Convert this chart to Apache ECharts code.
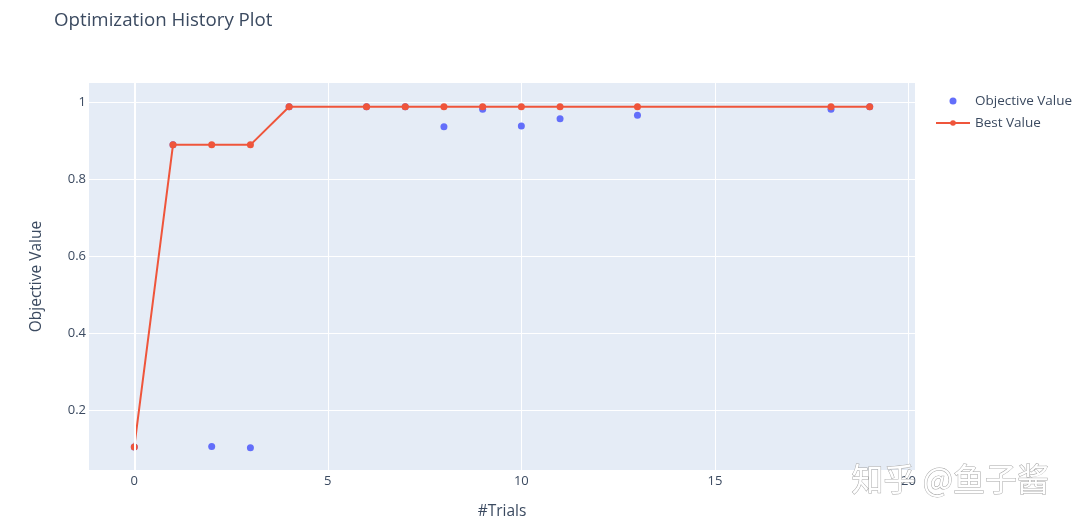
<!DOCTYPE html>
<html>
<head>
<meta charset="utf-8">
<script src="https://cdn.jsdelivr.net/npm/echarts@6/dist/echarts.min.js"></script>
<style>
html,body{margin:0;padding:0;background:#fff;}
#chart{width:1080px;height:525px;}
</style>
</head>
<body>
<div id="chart"></div>
<script>
const trials = [0, 1, 2, 3, 4, 6, 7, 8, 9, 10, 11, 13, 18, 19];
const objectiveValues = [0.104, 0.89, 0.105, 0.102, 0.989, 0.989, 0.989, 0.937, 0.983, 0.939, 0.958, 0.967, 0.983, 0.989];
const bestValues = [0.104, 0.89, 0.89, 0.89, 0.989, 0.989, 0.989, 0.989, 0.989, 0.989, 0.989, 0.989, 0.989, 0.989];
const xTicks = [0, 5, 10, 15, 20];
const yTicks = [0.2, 0.4, 0.6, 0.8, 1];

const FONT = '"Open Sans", "Noto Sans", sans-serif';
const TXT = '#3b4a60';

const chart = echarts.init(document.getElementById('chart'), null, {renderer: 'canvas'});
chart.setOption({
  animation: false,
  backgroundColor: '#ffffff',
  textStyle: {fontFamily: FONT, color: TXT},
  title: {
    text: 'Optimization History Plot',
    left: 49, top: 6,
    textStyle: {fontFamily: FONT, fontSize: 18.7, fontWeight: 'normal', color: TXT}
  },
  legend: {
    left: 930, top: 89, orient: 'vertical',
    itemWidth: 34, itemHeight: 7, itemGap: 8,
    textStyle: {fontFamily: FONT, fontSize: 13.5, color: TXT},
    data: ['Objective Value', 'Best Value']
  },
  grid: {left: 89, top: 83, width: 826, height: 387, backgroundColor: '#E5ECF6', show: true, borderWidth: 0},
  xAxis: {
    type: 'value', min: -1.17, max: 20.17,
    name: '#Trials', nameLocation: 'middle', nameGap: 34,
    nameTextStyle: {fontFamily: FONT, fontSize: 15.5, color: TXT},
    axisLine: {show: false}, axisTick: {show: false, customValues: xTicks},
    axisLabel: {customValues: xTicks, margin: 5, fontSize: 13, color: TXT, fontFamily: FONT},
    splitLine: {show: true, lineStyle: {color: '#ffffff', width: 1}}
  },
  yAxis: {
    type: 'value', min: 0.044, max: 1.051,
    name: 'Objective Value', nameLocation: 'middle', nameGap: 44, nameRotate: 90,
    nameTextStyle: {fontFamily: FONT, fontSize: 15.5, color: TXT},
    axisLine: {show: false}, axisTick: {show: false, customValues: yTicks},
    axisLabel: {customValues: yTicks, margin: 3, fontSize: 13, color: TXT, fontFamily: FONT},
    splitLine: {show: true, lineStyle: {color: '#ffffff', width: 1}}
  },
  series: [
    {
      type: 'line', name: '_zero', data: [], silent: true, z: 1,
      markLine: {
        silent: true, symbol: 'none', label: {show: false},
        lineStyle: {color: '#ffffff', width: 2, type: 'solid'},
        data: [{xAxis: 0}]
      }
    },
    {
      type: 'scatter', name: 'Objective Value', z: 2,
      data: trials.map((t, i) => [t, objectiveValues[i]]),
      symbol: 'circle', symbolSize: 7,
      itemStyle: {color: '#636EFA', opacity: 1}
    },
    {
      type: 'line', name: 'Best Value', z: 3,
      data: trials.map((t, i) => [t, bestValues[i]]),
      symbol: 'circle', symbolSize: 7, showSymbol: true,
      lineStyle: {color: '#EF553B', width: 2},
      itemStyle: {color: '#EF553B', borderWidth: 0}
    }
  ],
  graphic: [{
    type: 'text', left: 851, top: 462, silent: true, z: 100,
    style: {
      text: '知乎 @鱼子酱',
      font: '32px "Noto Sans CJK SC", sans-serif',
      fill: '#ffffff', stroke: '#a8a8a8', lineWidth: 1
    }
  }]
});
</script>
</body>
</html>
